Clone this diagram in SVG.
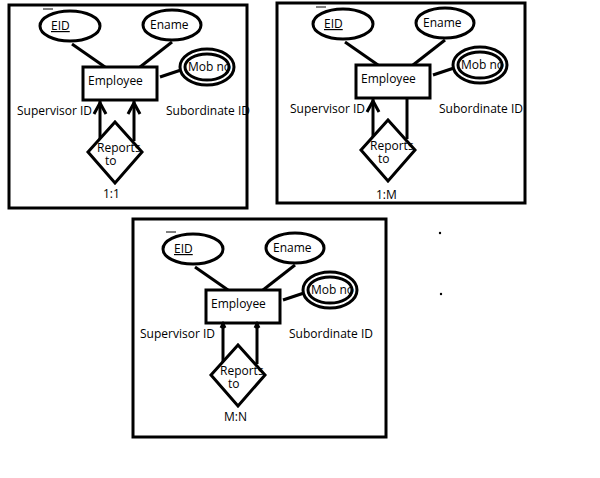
<svg xmlns="http://www.w3.org/2000/svg" width="600" height="478" viewBox="0 0 600 478">
<style>
.s{fill:none;stroke:#000;stroke-width:3}
.t{font-family:"Open Sans","DejaVu Sans",sans-serif;font-size:12px;fill:#000}
.w{fill:#fff;stroke:#000;stroke-width:3}
</style>
<rect width="600" height="478" fill="#fff"/>
<rect x="9" y="5" width="238" height="203" class="s"/>
<rect x="277" y="3" width="248" height="200" class="s"/>
<rect x="133" y="219" width="253" height="218" class="s"/>
<circle cx="440" cy="233" r="1.2"/><circle cx="441" cy="294" r="1.2"/>
<defs>
<g id="base">
<line x1="43" y1="9" x2="53" y2="9" stroke="#000" stroke-width="1"/>
<g id="connectors">
<line x1="72" y1="44" x2="105" y2="67" class="s"/>
<line x1="172" y1="42" x2="140" y2="67" class="s"/>
<line x1="160" y1="77" x2="181" y2="70" class="s"/>
<line x1="100" y1="141" x2="100" y2="101" class="s"/>
<line x1="134" y1="141" x2="134" y2="101" class="s"/>
</g>
<g id="eid"><ellipse cx="70" cy="26" rx="30" ry="15" class="w"/><text x="51" y="30" class="t" text-decoration="underline">EID</text></g>
<g id="ename"><ellipse cx="172" cy="25" rx="29" ry="15" class="w"/><text x="150" y="29" class="t">Ename</text></g>
<g id="emp"><rect x="83" y="67" width="74" height="33" class="w"/><text x="88" y="85" class="t">Employee</text></g>
<g id="mob"><ellipse cx="207" cy="67" rx="27" ry="18" class="w"/><ellipse cx="207" cy="67" rx="22" ry="13" class="s"/><text x="188" y="71" class="t">Mob no</text></g>
<g id="rel"><polygon points="115,122 142,152 115,183 88,152" class="w"/><text x="97" y="152" class="t">Reports</text><text x="105" y="165" class="t">to</text></g>
<text x="17" y="115" class="t">Supervisor ID</text>
<text x="166" y="115" class="t">Subordinate ID</text>
</g>
</defs>
<g id="panel1">
<use href="#base"/>
<path d="M94,114 L100,103 L106,114 M128,114 L134,103 L140,114" class="s"/>
<text x="103" y="198" class="t">1:1</text>
</g>
<g id="panel2" transform="translate(273,-2)">
<use href="#base"/>
<path d="M94,114 L100,103 L106,114" class="s"/>
<text x="103" y="201" class="t">1:M</text>
</g>
<g id="panel3" transform="translate(123,223)">
<use href="#base"/>
<path d="M98,105 L100,101 L102,105 M132,105 L134,101 L136,105" class="s" stroke-width="2"/>
<text x="101" y="198" class="t">M:N</text>
</g>
</svg>
